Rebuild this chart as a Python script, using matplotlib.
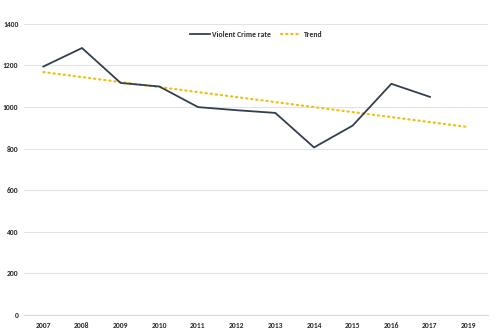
import numpy as np
from matplotlib import pyplot as plt

# Yearly values (2018 not reported)
years = ['2007', '2008', '2009', '2010', '2011', '2012',
         '2013', '2014', '2015', '2016', '2017', '2019']
crime_rate = [1195, 1284, 1116, 1099, 1000, 985, 972, 806, 911, 1112, 1049]
y_ticks = [0, 200, 400, 600, 800, 1000, 1200, 1400]

plt.rcParams['font.family'] = ['Carlito', 'Lato', 'DejaVu Sans']
plt.rcParams['font.weight'] = 'bold'

fig = plt.figure(figsize=(5.0, 3.32), dpi=100)
ax = fig.add_axes([0.048, 0.051, 0.928, 0.877])

x = np.arange(len(crime_rate))
ax.plot(x, crime_rate, color='#333f50', linewidth=1.3, label='Violent Crime rate', zorder=3)

# Linear trend through the reported years, carried forward to the last category
slope, intercept = np.polyfit(x + 1, crime_rate, 1)
x_trend = np.arange(len(years))
ax.plot(x_trend, slope * (x_trend + 1) + intercept, color='#ecc21c', linewidth=1.6,
        linestyle=(0, (0.6, 1.7)), dash_capstyle='round', label='Trend', zorder=2)

ax.set_xlim(-0.5, len(years) - 0.5)
ax.set_ylim(0, 1400)
ax.set_xticks(x_trend)
ax.set_xticklabels(years)
ax.set_yticks(y_ticks)
ax.grid(axis='y', color='#e3e3e3', linewidth=0.8)
ax.set_axisbelow(True)
for side in ['top', 'right', 'left']:
    ax.spines[side].set_visible(False)
ax.spines['bottom'].set_color('#d9d9d9')
ax.tick_params(axis='both', length=0, labelsize=5.5, colors='#2b2b2b')
ax.tick_params(axis='x', pad=5)
ax.tick_params(axis='y', pad=4)

ax.legend(loc='upper center', bbox_to_anchor=(0.5, 1.0), ncol=2, frameon=False,
          fontsize=5.5, handlelength=2.6, columnspacing=1.4, handletextpad=0.3,
          labelcolor='#2b2b2b')

plt.savefig('out.png', dpi=100)
plt.close()
